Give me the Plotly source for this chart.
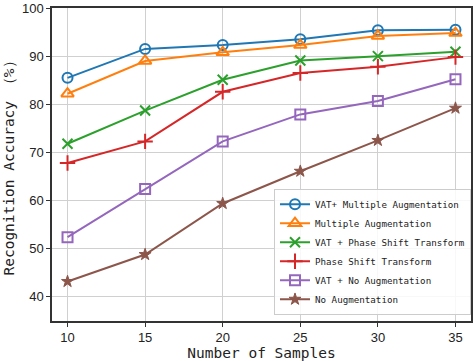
import plotly.graph_objects as go

samples = [10, 15, 20, 25, 30, 35]
vat_multi = [85.5, 91.5, 92.3, 93.5, 95.4, 95.5]
multi = [82.2, 89.0, 90.8, 92.3, 94.2, 94.8]
vat_phase = [71.8, 78.7, 85.1, 89.1, 90.0, 90.9]
phase = [67.8, 72.3, 82.6, 86.5, 87.8, 89.8]
vat_none = [52.4, 62.4, 72.3, 77.9, 80.7, 85.2]
none = [43.2, 48.8, 59.4, 66.1, 72.5, 79.2]

series = [
    ("VAT+ Multiple Augmentation", vat_multi, "#1f77b4", "circle-open", 10),
    ("Multiple Augmentation", multi, "#ff7f0e", "triangle-up-open", 11),
    ("VAT + Phase Shift Transform", vat_phase, "#2ca02c", "x-thin-open", 10),
    ("Phase Shift Transform", phase, "#d62728", "cross-thin-open", 11),
    ("VAT + No Augmentation", vat_none, "#9467bd", "square-open", 10),
    ("No Augmentation", none, "#8c564b", "star", 9),
]

fig = go.Figure()
for name, vals, color, sym, size in series:
    fig.add_trace(go.Scatter(
        x=samples, y=vals, name=name, mode="lines+markers",
        line=dict(color=color, width=2),
        marker=dict(symbol=sym, size=size, color=color,
                    line=dict(color=color, width=2 if sym != "star" else 1)),
    ))

fig.update_layout(
    width=474, height=361,
    margin=dict(l=52, r=1, t=7, b=40),
    plot_bgcolor="white", paper_bgcolor="white",
    font=dict(family="DejaVu Sans Mono, monospace", color="#222"),
    legend=dict(
        x=1.0, y=0.02, xanchor="right", yanchor="bottom",
        bgcolor="rgba(255,255,255,0.85)", bordercolor="#cccccc", borderwidth=1,
        font=dict(size=9.2, family="DejaVu Sans Mono, monospace"),
        tracegroupgap=0, itemwidth=30,
    ),
    showlegend=True,
)
fig.update_xaxes(
    range=[9, 36], tickvals=samples, showgrid=True, gridcolor="#d0d0d0",
    showline=True, linecolor="#333", linewidth=1.5, mirror=True,
    ticks="outside", ticklen=4, tickcolor="#333",
    tickfont=dict(size=13, family="Liberation Sans, Arial"),
    title=dict(text="Number of Samples", font=dict(size=14.5), standoff=2),
    zeroline=False, ticklabeloverflow="allow",
)
fig.update_yaxes(
    range=[35, 100], tickvals=[40, 50, 60, 70, 80, 90, 100], showgrid=True,
    gridcolor="#d0d0d0", showline=True, linecolor="#333", linewidth=1.5,
    mirror=True, ticks="outside", ticklen=4, tickcolor="#333",
    tickfont=dict(size=13, family="Liberation Sans, Arial"),
    title=dict(text="Recognition Accuracy （%）", font=dict(size=14.5), standoff=4),
    zeroline=False, ticklabeloverflow="allow",
)

fig.write_html(
    "out.html",
    config={"displayModeBar": False},
    post_script="document.body.style.margin='0';document.body.style.overflow='hidden';",
)
